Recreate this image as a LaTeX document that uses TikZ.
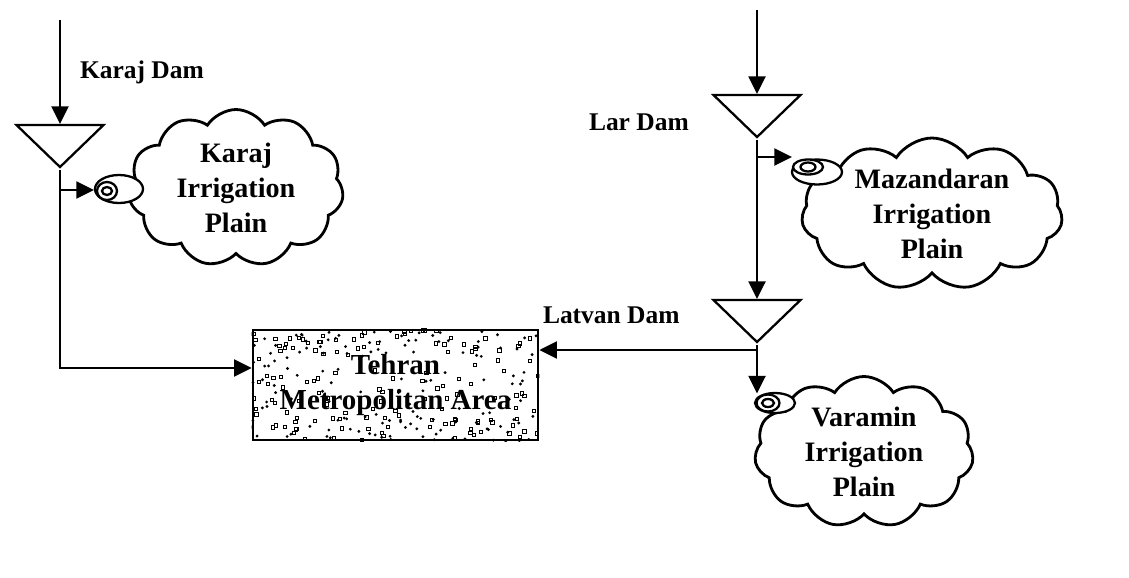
\documentclass[tikz,border=0pt]{standalone}
\usepackage{fontspec}
\setmainfont{Liberation Serif}
\usetikzlibrary{arrows.meta, shapes.geometric, shapes.symbols, calc, backgrounds}
\tikzset{
  every picture/.style={line width=1.3pt},
  flow/.style={-{Triangle[length=3.5mm, width=3.4mm]}},
  dam/.style={draw, isosceles triangle, isosceles triangle stretches, shape border rotate=270, minimum width=1.74cm, minimum height=0.84cm, inner sep=0pt},
  plain/.style={draw, cloud, cloud puffs=11, cloud puff arc=115, aspect=1.7, line width=1.6pt, align=center, inner sep=-0.35cm, font=\fontsize{16}{20}\selectfont\bfseries},
  damlabel/.style={anchor=west, font=\fontsize{14.5}{17}\selectfont\bfseries},
  bubble/.style={draw, fill=white, ellipse, inner sep=0pt},
  city/.style={draw, line width=1.6pt, minimum width=5.7cm, minimum height=2.2cm, align=center, inner sep=0pt, font=\fontsize{16.5}{20}\selectfont\bfseries},
}
\begin{document}
\begin{tikzpicture}
  \useasboundingbox (0,0) rectangle (22.58,-11.54);
  \pgfmathsetseed{7}
  % Karaj branch
  \coordinate (kin) at (1.2,-0.4);
  \node[dam, anchor=apex] (kdam) at (1.2,-3.4) {};
  \node[damlabel] (klab) at (1.46,-1.44) {Karaj Dam};
  \draw[flow] (kin) -- (kdam.north);
  \node[plain, minimum width=4.3cm, minimum height=3.14cm] (kcloud) at (4.72,-3.76) {Karaj\\Irrigation\\Plain};
  \node[bubble, minimum width=0.96cm, minimum height=0.56cm] (kbub) at (2.38,-3.78) {};
  \node[bubble, minimum width=0.4cm, minimum height=0.36cm] (kring) at (2.14,-3.82) {};
  \node[bubble, minimum width=0.2cm, minimum height=0.16cm] (kcore) at (kring) {};
  \coordinate (kbr) at (1.2,-3.8);
  \coordinate (kjoin) at (1.2,-7.36);
  \draw[flow] (kbr) -- (kbr -| kbub.west);
  % Tehran
  \node[city] (tehran) at (7.91,-7.7) {Tehran\\Metropolitan Area};
  \draw[flow] (kdam.apex) -- (kjoin) -- (kjoin -| tehran.west);
  % Lar and Latvan branch
  \coordinate (lin) at (15.14,-0.2);
  \node[dam, anchor=apex] (ldam) at (15.14,-2.8) {};
  \node[damlabel] (llab) at (11.64,-2.44) {Lar Dam};
  \draw[flow] (lin) -- (ldam.north);
  \node[plain, minimum width=5.22cm, minimum height=3.04cm] (mcloud) at (18.64,-4.28) {Mazandaran\\Irrigation\\Plain};
  \node[bubble, minimum width=1.0cm, minimum height=0.5cm] (mbub) at (16.34,-3.44) {};
  \node[bubble, minimum width=0.6cm, minimum height=0.3cm] (mring) at (16.16,-3.34) {};
  \node[bubble, minimum width=0.3cm, minimum height=0.18cm] (mcore) at (mring) {};
  \coordinate (mbr) at (15.14,-3.14);
  \draw[flow] (mbr) -- (mbr -| mring.west);
  \node[dam, anchor=apex] (tdam) at (15.14,-6.9) {};
  \node[damlabel] (tlab) at (10.72,-6.3) {Latvan Dam};
  \draw[flow] (ldam.apex) -- (tdam.north);
  \coordinate (tj) at (15.14,-7.0);
  \node[plain, minimum width=4.38cm, minimum height=3.02cm] (vcloud) at (17.28,-9.04) {Varamin\\Irrigation\\Plain};
  \node[bubble, minimum width=0.8cm, minimum height=0.4cm] (vbub) at (15.5,-8.06) {};
  \node[bubble, minimum width=0.46cm, minimum height=0.34cm] (vring) at (15.36,-8.06) {};
  \node[bubble, minimum width=0.24cm, minimum height=0.16cm] (vcore) at (vring) {};
  \draw (tdam.apex) -- (tj);
  \draw[flow] (tj) -- (tj -| tehran.east);
  \draw[flow] (tj) -- (tj |- vring.north);
  % stipple, thinner where the text sits
  \begin{scope}[on background layer]
    \clip (tehran.south west) rectangle (tehran.north east);
    \foreach \i in {1,...,420}{
      \pgfmathsetmacro{\px}{5.7*rnd}
      \pgfmathsetmacro{\py}{2.2*rnd}
      \pgfmathtruncatemacro{\keep}{(\py>0.5 && \py<1.75 && \px>0.55 && \px<5.15 && rnd<0.65) ? 0 : 1}
      \ifnum\keep=1
        \ifodd\i
          \fill ($(tehran.south west)+(\px,\py)$) circle (0.9pt);
        \else
          \draw[line width=0.5pt] ($(tehran.south west)+(\px,\py)$) rectangle +(1.9pt,1.9pt);
        \fi
      \fi
    }
  \end{scope}
  \foreach \c in {kcloud,mcloud,vcloud}{
    \begin{scope}[on background layer]
      \clip (\c.center) ellipse (1.9 and 1.2);
      \foreach \i in {1,...,45}
        \fill ($(\c.center)+({4*rnd-2},{2.4*rnd-1.2})$) circle (0.6pt);
    \end{scope}
  }
\end{tikzpicture}
\end{document}
